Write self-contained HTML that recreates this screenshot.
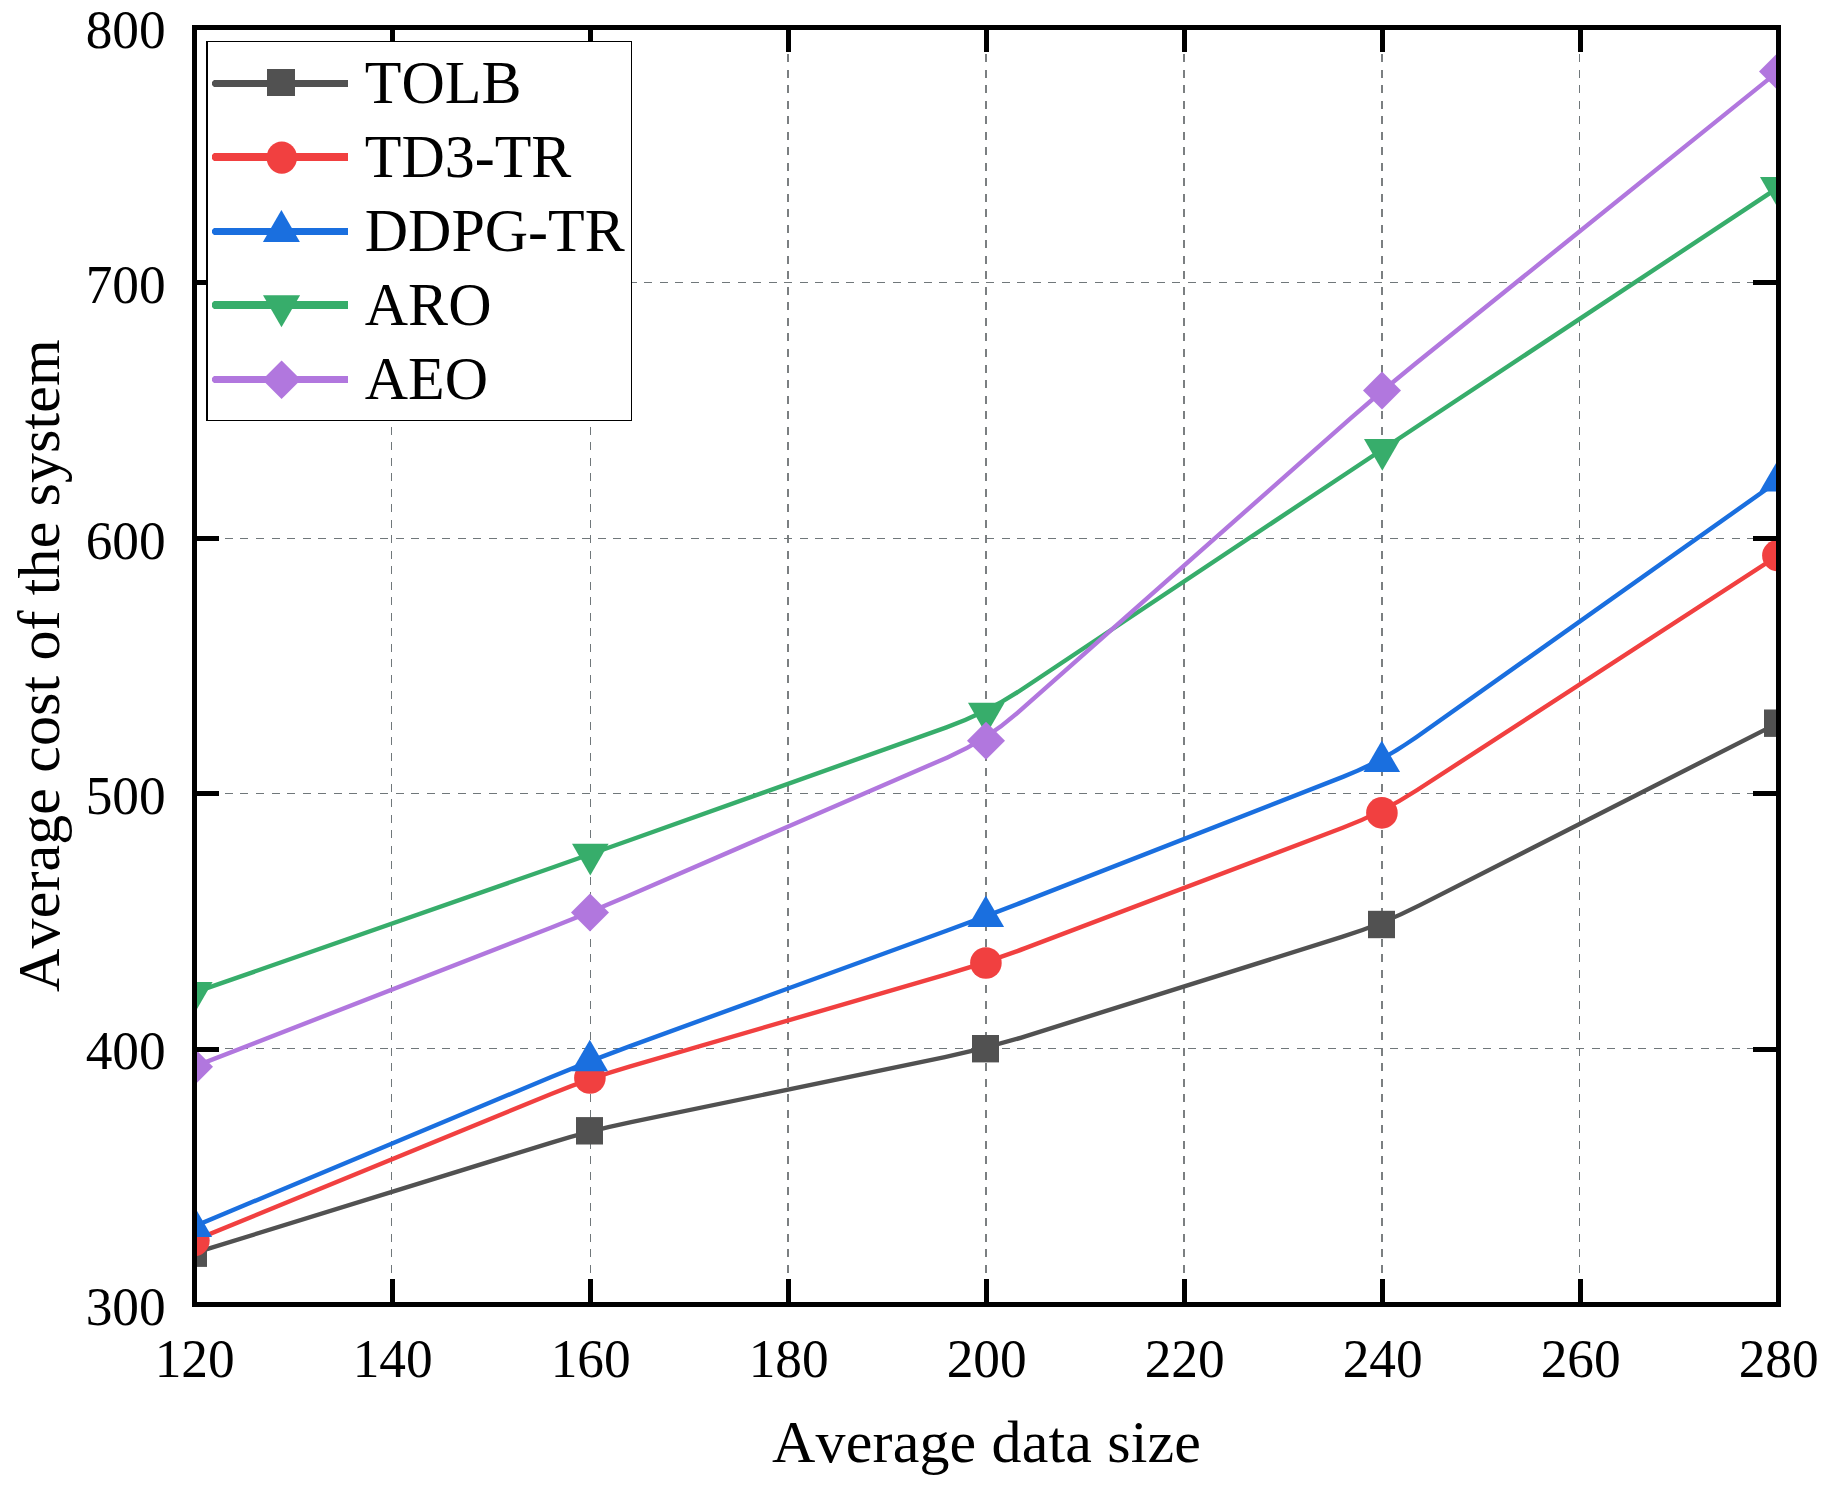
<!DOCTYPE html>
<html lang="en"><head><meta charset="utf-8"><title>Average cost of the system</title>
<style>
html,body{margin:0;padding:0;background:#fff;}
body{width:1830px;height:1492px;overflow:hidden;}
svg{display:block;}
text{font-family:"Liberation Serif","Times New Roman",serif;font-kerning:none;fill:#000;}
.tk{font-size:54px;}
.tt{font-size:60px;}
.xt{letter-spacing:0.15px;}
.yt{letter-spacing:0.115px;}
</style></head><body>
<svg width="1830" height="1492" viewBox="0 0 1830 1492">
<rect width="1830" height="1492" fill="#fff"/>
<defs><clipPath id="cp"><rect x="194.5" y="27.5" width="1584" height="1277"/></clipPath></defs>
<path d="M391.5 1296v8M391.5 1280v8M391.5 1265v8M391.5 1249v8M391.5 1234v8M391.5 1218v8M391.5 1203v8M391.5 1187v8M391.5 1172v8M391.5 1156v8M391.5 1141v8M391.5 1125v8M391.5 1110v8M391.5 1094v8M391.5 1079v8M391.5 1063v8M391.5 1048v8M391.5 1032v8M391.5 1016v8M391.5 1001v8M391.5 985v8M391.5 970v8M391.5 954v8M391.5 939v8M391.5 923v8M391.5 908v8M391.5 892v8M391.5 877v8M391.5 861v8M391.5 846v8M391.5 830v8M391.5 815v8M391.5 799v8M391.5 784v8M391.5 768v8M391.5 753v8M391.5 737v8M391.5 722v8M391.5 706v8M391.5 691v8M391.5 675v8M391.5 659v8M391.5 644v8M391.5 628v8M391.5 613v8M391.5 597v8M391.5 582v8M391.5 566v8M391.5 551v8M391.5 535v8M391.5 520v8M391.5 504v8M391.5 489v8M391.5 473v8M391.5 458v8M391.5 442v8M391.5 427v8M391.5 411v8M391.5 396v8M391.5 380v8M391.5 365v8M391.5 349v8M391.5 333v8M391.5 318v8M391.5 302v8M391.5 287v8M391.5 271v8M391.5 256v8M391.5 240v8M391.5 225v8M391.5 209v8M391.5 194v8M391.5 178v8M391.5 163v8M391.5 147v8M391.5 132v8M391.5 116v8M391.5 101v8M391.5 85v8M391.5 70v8M391.5 54v8M391.5 39v8" stroke="#70777a" stroke-width="1" fill="none"/>
<path d="M590.5 1296v8M590.5 1280v8M590.5 1265v8M590.5 1249v8M590.5 1234v8M590.5 1218v8M590.5 1203v8M590.5 1187v8M590.5 1172v8M590.5 1156v8M590.5 1141v8M590.5 1125v8M590.5 1110v8M590.5 1094v8M590.5 1079v8M590.5 1063v8M590.5 1048v8M590.5 1032v8M590.5 1016v8M590.5 1001v8M590.5 985v8M590.5 970v8M590.5 954v8M590.5 939v8M590.5 923v8M590.5 908v8M590.5 892v8M590.5 877v8M590.5 861v8M590.5 846v8M590.5 830v8M590.5 815v8M590.5 799v8M590.5 784v8M590.5 768v8M590.5 753v8M590.5 737v8M590.5 722v8M590.5 706v8M590.5 691v8M590.5 675v8M590.5 659v8M590.5 644v8M590.5 628v8M590.5 613v8M590.5 597v8M590.5 582v8M590.5 566v8M590.5 551v8M590.5 535v8M590.5 520v8M590.5 504v8M590.5 489v8M590.5 473v8M590.5 458v8M590.5 442v8M590.5 427v8M590.5 411v8M590.5 396v8M590.5 380v8M590.5 365v8M590.5 349v8M590.5 333v8M590.5 318v8M590.5 302v8M590.5 287v8M590.5 271v8M590.5 256v8M590.5 240v8M590.5 225v8M590.5 209v8M590.5 194v8M590.5 178v8M590.5 163v8M590.5 147v8M590.5 132v8M590.5 116v8M590.5 101v8M590.5 85v8M590.5 70v8M590.5 54v8M590.5 39v8" stroke="#70777a" stroke-width="1" fill="none"/>
<path d="M788 1296v8M788 1280v8M788 1265v8M788 1249v8M788 1234v8M788 1218v8M788 1203v8M788 1187v8M788 1172v8M788 1156v8M788 1141v8M788 1125v8M788 1110v8M788 1094v8M788 1079v8M788 1063v8M788 1048v8M788 1032v8M788 1016v8M788 1001v8M788 985v8M788 970v8M788 954v8M788 939v8M788 923v8M788 908v8M788 892v8M788 877v8M788 861v8M788 846v8M788 830v8M788 815v8M788 799v8M788 784v8M788 768v8M788 753v8M788 737v8M788 722v8M788 706v8M788 691v8M788 675v8M788 659v8M788 644v8M788 628v8M788 613v8M788 597v8M788 582v8M788 566v8M788 551v8M788 535v8M788 520v8M788 504v8M788 489v8M788 473v8M788 458v8M788 442v8M788 427v8M788 411v8M788 396v8M788 380v8M788 365v8M788 349v8M788 333v8M788 318v8M788 302v8M788 287v8M788 271v8M788 256v8M788 240v8M788 225v8M788 209v8M788 194v8M788 178v8M788 163v8M788 147v8M788 132v8M788 116v8M788 101v8M788 85v8M788 70v8M788 54v8M788 39v8" stroke="#7b7f81" stroke-width="2" fill="none"/>
<path d="M986 1296v8M986 1280v8M986 1265v8M986 1249v8M986 1234v8M986 1218v8M986 1203v8M986 1187v8M986 1172v8M986 1156v8M986 1141v8M986 1125v8M986 1110v8M986 1094v8M986 1079v8M986 1063v8M986 1048v8M986 1032v8M986 1016v8M986 1001v8M986 985v8M986 970v8M986 954v8M986 939v8M986 923v8M986 908v8M986 892v8M986 877v8M986 861v8M986 846v8M986 830v8M986 815v8M986 799v8M986 784v8M986 768v8M986 753v8M986 737v8M986 722v8M986 706v8M986 691v8M986 675v8M986 659v8M986 644v8M986 628v8M986 613v8M986 597v8M986 582v8M986 566v8M986 551v8M986 535v8M986 520v8M986 504v8M986 489v8M986 473v8M986 458v8M986 442v8M986 427v8M986 411v8M986 396v8M986 380v8M986 365v8M986 349v8M986 333v8M986 318v8M986 302v8M986 287v8M986 271v8M986 256v8M986 240v8M986 225v8M986 209v8M986 194v8M986 178v8M986 163v8M986 147v8M986 132v8M986 116v8M986 101v8M986 85v8M986 70v8M986 54v8M986 39v8" stroke="#7b7f81" stroke-width="2" fill="none"/>
<path d="M1184 1296v8M1184 1280v8M1184 1265v8M1184 1249v8M1184 1234v8M1184 1218v8M1184 1203v8M1184 1187v8M1184 1172v8M1184 1156v8M1184 1141v8M1184 1125v8M1184 1110v8M1184 1094v8M1184 1079v8M1184 1063v8M1184 1048v8M1184 1032v8M1184 1016v8M1184 1001v8M1184 985v8M1184 970v8M1184 954v8M1184 939v8M1184 923v8M1184 908v8M1184 892v8M1184 877v8M1184 861v8M1184 846v8M1184 830v8M1184 815v8M1184 799v8M1184 784v8M1184 768v8M1184 753v8M1184 737v8M1184 722v8M1184 706v8M1184 691v8M1184 675v8M1184 659v8M1184 644v8M1184 628v8M1184 613v8M1184 597v8M1184 582v8M1184 566v8M1184 551v8M1184 535v8M1184 520v8M1184 504v8M1184 489v8M1184 473v8M1184 458v8M1184 442v8M1184 427v8M1184 411v8M1184 396v8M1184 380v8M1184 365v8M1184 349v8M1184 333v8M1184 318v8M1184 302v8M1184 287v8M1184 271v8M1184 256v8M1184 240v8M1184 225v8M1184 209v8M1184 194v8M1184 178v8M1184 163v8M1184 147v8M1184 132v8M1184 116v8M1184 101v8M1184 85v8M1184 70v8M1184 54v8M1184 39v8" stroke="#7b7f81" stroke-width="2" fill="none"/>
<path d="M1382 1296v8M1382 1280v8M1382 1265v8M1382 1249v8M1382 1234v8M1382 1218v8M1382 1203v8M1382 1187v8M1382 1172v8M1382 1156v8M1382 1141v8M1382 1125v8M1382 1110v8M1382 1094v8M1382 1079v8M1382 1063v8M1382 1048v8M1382 1032v8M1382 1016v8M1382 1001v8M1382 985v8M1382 970v8M1382 954v8M1382 939v8M1382 923v8M1382 908v8M1382 892v8M1382 877v8M1382 861v8M1382 846v8M1382 830v8M1382 815v8M1382 799v8M1382 784v8M1382 768v8M1382 753v8M1382 737v8M1382 722v8M1382 706v8M1382 691v8M1382 675v8M1382 659v8M1382 644v8M1382 628v8M1382 613v8M1382 597v8M1382 582v8M1382 566v8M1382 551v8M1382 535v8M1382 520v8M1382 504v8M1382 489v8M1382 473v8M1382 458v8M1382 442v8M1382 427v8M1382 411v8M1382 396v8M1382 380v8M1382 365v8M1382 349v8M1382 333v8M1382 318v8M1382 302v8M1382 287v8M1382 271v8M1382 256v8M1382 240v8M1382 225v8M1382 209v8M1382 194v8M1382 178v8M1382 163v8M1382 147v8M1382 132v8M1382 116v8M1382 101v8M1382 85v8M1382 70v8M1382 54v8M1382 39v8" stroke="#7b7f81" stroke-width="2" fill="none"/>
<path d="M1579.5 1296v8M1579.5 1280v8M1579.5 1265v8M1579.5 1249v8M1579.5 1234v8M1579.5 1218v8M1579.5 1203v8M1579.5 1187v8M1579.5 1172v8M1579.5 1156v8M1579.5 1141v8M1579.5 1125v8M1579.5 1110v8M1579.5 1094v8M1579.5 1079v8M1579.5 1063v8M1579.5 1048v8M1579.5 1032v8M1579.5 1016v8M1579.5 1001v8M1579.5 985v8M1579.5 970v8M1579.5 954v8M1579.5 939v8M1579.5 923v8M1579.5 908v8M1579.5 892v8M1579.5 877v8M1579.5 861v8M1579.5 846v8M1579.5 830v8M1579.5 815v8M1579.5 799v8M1579.5 784v8M1579.5 768v8M1579.5 753v8M1579.5 737v8M1579.5 722v8M1579.5 706v8M1579.5 691v8M1579.5 675v8M1579.5 659v8M1579.5 644v8M1579.5 628v8M1579.5 613v8M1579.5 597v8M1579.5 582v8M1579.5 566v8M1579.5 551v8M1579.5 535v8M1579.5 520v8M1579.5 504v8M1579.5 489v8M1579.5 473v8M1579.5 458v8M1579.5 442v8M1579.5 427v8M1579.5 411v8M1579.5 396v8M1579.5 380v8M1579.5 365v8M1579.5 349v8M1579.5 333v8M1579.5 318v8M1579.5 302v8M1579.5 287v8M1579.5 271v8M1579.5 256v8M1579.5 240v8M1579.5 225v8M1579.5 209v8M1579.5 194v8M1579.5 178v8M1579.5 163v8M1579.5 147v8M1579.5 132v8M1579.5 116v8M1579.5 101v8M1579.5 85v8M1579.5 70v8M1579.5 54v8M1579.5 39v8" stroke="#70777a" stroke-width="1" fill="none"/>
<path d="M194 282.5h8M209 282.5h8M225 282.5h8M240 282.5h8M256 282.5h8M272 282.5h8M287 282.5h8M303 282.5h8M318 282.5h8M334 282.5h8M349 282.5h8M365 282.5h8M380 282.5h8M396 282.5h8M411 282.5h8M427 282.5h8M442 282.5h8M458 282.5h8M473 282.5h8M489 282.5h8M505 282.5h8M520 282.5h8M536 282.5h8M551 282.5h8M567 282.5h8M582 282.5h8M598 282.5h8M613 282.5h8M629 282.5h8M644 282.5h8M660 282.5h8M675 282.5h8M691 282.5h8M706 282.5h8M722 282.5h8M738 282.5h8M753 282.5h8M769 282.5h8M784 282.5h8M800 282.5h8M815 282.5h8M831 282.5h8M846 282.5h8M862 282.5h8M877 282.5h8M893 282.5h8M908 282.5h8M924 282.5h8M939 282.5h8M955 282.5h8M971 282.5h8M986 282.5h8M1002 282.5h8M1017 282.5h8M1033 282.5h8M1048 282.5h8M1064 282.5h8M1079 282.5h8M1095 282.5h8M1110 282.5h8M1126 282.5h8M1141 282.5h8M1157 282.5h8M1172 282.5h8M1188 282.5h8M1203 282.5h8M1219 282.5h8M1235 282.5h8M1250 282.5h8M1266 282.5h8M1281 282.5h8M1297 282.5h8M1312 282.5h8M1328 282.5h8M1343 282.5h8M1359 282.5h8M1374 282.5h8M1390 282.5h8M1405 282.5h8M1421 282.5h8M1436 282.5h8M1452 282.5h8M1468 282.5h8M1483 282.5h8M1499 282.5h8M1514 282.5h8M1530 282.5h8M1545 282.5h8M1561 282.5h8M1576 282.5h8M1592 282.5h8M1607 282.5h8M1623 282.5h8M1638 282.5h8M1654 282.5h8M1669 282.5h8M1685 282.5h8M1701 282.5h8M1716 282.5h8M1732 282.5h8M1747 282.5h8M1763 282.5h8" stroke="#70777a" stroke-width="1" fill="none"/>
<path d="M194 538.5h8M209 538.5h8M225 538.5h8M240 538.5h8M256 538.5h8M272 538.5h8M287 538.5h8M303 538.5h8M318 538.5h8M334 538.5h8M349 538.5h8M365 538.5h8M380 538.5h8M396 538.5h8M411 538.5h8M427 538.5h8M442 538.5h8M458 538.5h8M473 538.5h8M489 538.5h8M505 538.5h8M520 538.5h8M536 538.5h8M551 538.5h8M567 538.5h8M582 538.5h8M598 538.5h8M613 538.5h8M629 538.5h8M644 538.5h8M660 538.5h8M675 538.5h8M691 538.5h8M706 538.5h8M722 538.5h8M738 538.5h8M753 538.5h8M769 538.5h8M784 538.5h8M800 538.5h8M815 538.5h8M831 538.5h8M846 538.5h8M862 538.5h8M877 538.5h8M893 538.5h8M908 538.5h8M924 538.5h8M939 538.5h8M955 538.5h8M971 538.5h8M986 538.5h8M1002 538.5h8M1017 538.5h8M1033 538.5h8M1048 538.5h8M1064 538.5h8M1079 538.5h8M1095 538.5h8M1110 538.5h8M1126 538.5h8M1141 538.5h8M1157 538.5h8M1172 538.5h8M1188 538.5h8M1203 538.5h8M1219 538.5h8M1235 538.5h8M1250 538.5h8M1266 538.5h8M1281 538.5h8M1297 538.5h8M1312 538.5h8M1328 538.5h8M1343 538.5h8M1359 538.5h8M1374 538.5h8M1390 538.5h8M1405 538.5h8M1421 538.5h8M1436 538.5h8M1452 538.5h8M1468 538.5h8M1483 538.5h8M1499 538.5h8M1514 538.5h8M1530 538.5h8M1545 538.5h8M1561 538.5h8M1576 538.5h8M1592 538.5h8M1607 538.5h8M1623 538.5h8M1638 538.5h8M1654 538.5h8M1669 538.5h8M1685 538.5h8M1701 538.5h8M1716 538.5h8M1732 538.5h8M1747 538.5h8M1763 538.5h8" stroke="#70777a" stroke-width="1" fill="none"/>
<path d="M194 793.5h8M209 793.5h8M225 793.5h8M240 793.5h8M256 793.5h8M272 793.5h8M287 793.5h8M303 793.5h8M318 793.5h8M334 793.5h8M349 793.5h8M365 793.5h8M380 793.5h8M396 793.5h8M411 793.5h8M427 793.5h8M442 793.5h8M458 793.5h8M473 793.5h8M489 793.5h8M505 793.5h8M520 793.5h8M536 793.5h8M551 793.5h8M567 793.5h8M582 793.5h8M598 793.5h8M613 793.5h8M629 793.5h8M644 793.5h8M660 793.5h8M675 793.5h8M691 793.5h8M706 793.5h8M722 793.5h8M738 793.5h8M753 793.5h8M769 793.5h8M784 793.5h8M800 793.5h8M815 793.5h8M831 793.5h8M846 793.5h8M862 793.5h8M877 793.5h8M893 793.5h8M908 793.5h8M924 793.5h8M939 793.5h8M955 793.5h8M971 793.5h8M986 793.5h8M1002 793.5h8M1017 793.5h8M1033 793.5h8M1048 793.5h8M1064 793.5h8M1079 793.5h8M1095 793.5h8M1110 793.5h8M1126 793.5h8M1141 793.5h8M1157 793.5h8M1172 793.5h8M1188 793.5h8M1203 793.5h8M1219 793.5h8M1235 793.5h8M1250 793.5h8M1266 793.5h8M1281 793.5h8M1297 793.5h8M1312 793.5h8M1328 793.5h8M1343 793.5h8M1359 793.5h8M1374 793.5h8M1390 793.5h8M1405 793.5h8M1421 793.5h8M1436 793.5h8M1452 793.5h8M1468 793.5h8M1483 793.5h8M1499 793.5h8M1514 793.5h8M1530 793.5h8M1545 793.5h8M1561 793.5h8M1576 793.5h8M1592 793.5h8M1607 793.5h8M1623 793.5h8M1638 793.5h8M1654 793.5h8M1669 793.5h8M1685 793.5h8M1701 793.5h8M1716 793.5h8M1732 793.5h8M1747 793.5h8M1763 793.5h8" stroke="#70777a" stroke-width="1" fill="none"/>
<path d="M194 1048.5h8M209 1048.5h8M225 1048.5h8M240 1048.5h8M256 1048.5h8M272 1048.5h8M287 1048.5h8M303 1048.5h8M318 1048.5h8M334 1048.5h8M349 1048.5h8M365 1048.5h8M380 1048.5h8M396 1048.5h8M411 1048.5h8M427 1048.5h8M442 1048.5h8M458 1048.5h8M473 1048.5h8M489 1048.5h8M505 1048.5h8M520 1048.5h8M536 1048.5h8M551 1048.5h8M567 1048.5h8M582 1048.5h8M598 1048.5h8M613 1048.5h8M629 1048.5h8M644 1048.5h8M660 1048.5h8M675 1048.5h8M691 1048.5h8M706 1048.5h8M722 1048.5h8M738 1048.5h8M753 1048.5h8M769 1048.5h8M784 1048.5h8M800 1048.5h8M815 1048.5h8M831 1048.5h8M846 1048.5h8M862 1048.5h8M877 1048.5h8M893 1048.5h8M908 1048.5h8M924 1048.5h8M939 1048.5h8M955 1048.5h8M971 1048.5h8M986 1048.5h8M1002 1048.5h8M1017 1048.5h8M1033 1048.5h8M1048 1048.5h8M1064 1048.5h8M1079 1048.5h8M1095 1048.5h8M1110 1048.5h8M1126 1048.5h8M1141 1048.5h8M1157 1048.5h8M1172 1048.5h8M1188 1048.5h8M1203 1048.5h8M1219 1048.5h8M1235 1048.5h8M1250 1048.5h8M1266 1048.5h8M1281 1048.5h8M1297 1048.5h8M1312 1048.5h8M1328 1048.5h8M1343 1048.5h8M1359 1048.5h8M1374 1048.5h8M1390 1048.5h8M1405 1048.5h8M1421 1048.5h8M1436 1048.5h8M1452 1048.5h8M1468 1048.5h8M1483 1048.5h8M1499 1048.5h8M1514 1048.5h8M1530 1048.5h8M1545 1048.5h8M1561 1048.5h8M1576 1048.5h8M1592 1048.5h8M1607 1048.5h8M1623 1048.5h8M1638 1048.5h8M1654 1048.5h8M1669 1048.5h8M1685 1048.5h8M1701 1048.5h8M1716 1048.5h8M1732 1048.5h8M1747 1048.5h8M1763 1048.5h8" stroke="#70777a" stroke-width="1" fill="none"/>
<g clip-path="url(#cp)">
<path d="M194 1253.1L549.87 1143.1Q590 1130.7 631.13 1122.17L944.87 1057.13Q986 1048.6 1026.08 1036.03L1341.92 936.97Q1382 924.4 1419.44 905.37L1778 723.1" fill="none" stroke="#515151" stroke-width="4.4" stroke-linejoin="round"/>
<rect x="180" y="1239.5" width="27" height="27.4" fill="#515151"/>
<rect x="576" y="1117.1" width="27" height="27.4" fill="#515151"/>
<rect x="972" y="1035" width="27" height="27.4" fill="#515151"/>
<rect x="1368" y="910.8" width="27" height="27.4" fill="#515151"/>
<rect x="1764" y="709.5" width="27" height="27.4" fill="#515151"/>
<path d="M194 1240.5L551.14 1093.94Q590 1078 630.33 1066.29L945.67 974.71Q986 963 1025.27 948.11L1342.73 827.79Q1382 812.9 1417.22 790.02L1778 555.6" fill="none" stroke="#F14040" stroke-width="4.4" stroke-linejoin="round"/>
<circle cx="193.9" cy="1240.5" r="15.8" fill="#F14040"/>
<circle cx="589.9" cy="1078" r="15.8" fill="#F14040"/>
<circle cx="985.9" cy="963" r="15.8" fill="#F14040"/>
<circle cx="1381.9" cy="812.9" r="15.8" fill="#F14040"/>
<circle cx="1777.9" cy="555.6" r="15.8" fill="#F14040"/>
<path d="M194 1226.4L551.26 1076.91Q590 1060.7 629.46 1046.32L946.54 930.78Q986 916.4 1025.12 901.11L1342.88 776.89Q1382 761.6 1416.27 737.32L1778 481" fill="none" stroke="#1A6FDF" stroke-width="4.4" stroke-linejoin="round"/>
<polygon points="175.5,1236.9 212.1,1236.9 193.8,1205.4" fill="#1A6FDF"/>
<polygon points="571.5,1071.2 608.1,1071.2 589.8,1039.7" fill="#1A6FDF"/>
<polygon points="967.5,926.9 1004.1,926.9 985.8,895.4" fill="#1A6FDF"/>
<polygon points="1363.5,772.1 1400.1,772.1 1381.8,740.6" fill="#1A6FDF"/>
<polygon points="1759.5,491.5 1796.1,491.5 1777.8,460" fill="#1A6FDF"/>
<path d="M194 992.7L550.35 868.25Q590 854.4 629.56 840.3L946.44 727.4Q986 713.3 1020.96 690.03L1347.04 472.97Q1382 449.7 1417.03 426.53L1778 187.7" fill="none" stroke="#37AD6B" stroke-width="4.4" stroke-linejoin="round"/>
<polygon points="176,982.1 212.6,982.1 194.3,1013.8" fill="#37AD6B"/>
<polygon points="572,843.8 608.6,843.8 590.3,875.5" fill="#37AD6B"/>
<polygon points="968,702.7 1004.6,702.7 986.3,734.4" fill="#37AD6B"/>
<polygon points="1364,439.1 1400.6,439.1 1382.3,470.8" fill="#37AD6B"/>
<polygon points="1760,177.1 1796.6,177.1 1778.3,208.8" fill="#37AD6B"/>
<path d="M194 1066.7L550.86 927.74Q590 912.5 628.53 895.78L947.47 757.42Q986 740.7 1017.47 712.88L1350.53 418.42Q1382 390.6 1414.71 364.25L1778 71.6" fill="none" stroke="#B177DE" stroke-width="4.4" stroke-linejoin="round"/>
<polygon points="175,1066.7 194,1047.7 213,1066.7 194,1085.7" fill="#B177DE"/>
<polygon points="571,912.5 590,893.5 609,912.5 590,931.5" fill="#B177DE"/>
<polygon points="967,740.7 986,721.7 1005,740.7 986,759.7" fill="#B177DE"/>
<polygon points="1363,390.6 1382,371.6 1401,390.6 1382,409.6" fill="#B177DE"/>
<polygon points="1759,71.6 1778,52.6 1797,71.6 1778,90.6" fill="#B177DE"/>
</g>
<path d="M392.5 27.5V52M392.5 1304.5V1279M590.5 27.5V52M590.5 1304.5V1279M788.5 27.5V52M788.5 1304.5V1279M986.5 27.5V52M986.5 1304.5V1279M1184.5 27.5V52M1184.5 1304.5V1279M1382.5 27.5V52M1382.5 1304.5V1279M1580.5 27.5V52M1580.5 1304.5V1279M194.5 1049.5H219M1778.5 1049.5H1753M194.5 793.5H219M1778.5 793.5H1753M194.5 538.5H219M1778.5 538.5H1753M194.5 282.5H219M1778.5 282.5H1753" stroke="#000" stroke-width="5" fill="none"/>
<rect x="194.5" y="27.5" width="1584" height="1277" stroke="#000" stroke-width="5" fill="none"/>
<text class="tk" transform="translate(194.7,1377) scale(0.988,1.008)" text-anchor="middle">120</text><text class="tk" transform="translate(392.7,1377) scale(0.988,1.008)" text-anchor="middle">140</text><text class="tk" transform="translate(590.7,1377) scale(0.988,1.008)" text-anchor="middle">160</text><text class="tk" transform="translate(788.7,1377) scale(0.988,1.008)" text-anchor="middle">180</text><text class="tk" transform="translate(986.7,1377) scale(0.988,1.008)" text-anchor="middle">200</text><text class="tk" transform="translate(1184.7,1377) scale(0.988,1.008)" text-anchor="middle">220</text><text class="tk" transform="translate(1382.7,1377) scale(0.988,1.008)" text-anchor="middle">240</text><text class="tk" transform="translate(1580.7,1377) scale(0.988,1.008)" text-anchor="middle">260</text><text class="tk" transform="translate(1778.7,1377) scale(0.988,1.008)" text-anchor="middle">280</text>
<text class="tk" transform="translate(165.7,1324.8) scale(0.988,1.008)" text-anchor="end">300</text><text class="tk" transform="translate(165.7,1069.4) scale(0.988,1.008)" text-anchor="end">400</text><text class="tk" transform="translate(165.7,814) scale(0.988,1.008)" text-anchor="end">500</text><text class="tk" transform="translate(165.7,558.6) scale(0.988,1.008)" text-anchor="end">600</text><text class="tk" transform="translate(165.7,303.2) scale(0.988,1.008)" text-anchor="end">700</text><text class="tk" transform="translate(165.7,47.8) scale(0.988,1.008)" text-anchor="end">800</text>
<text class="tt xt" x="986.6" y="1461.5" text-anchor="middle">Average data size</text>
 <text class="tt yt" transform="translate(59,665.5) rotate(-90)" text-anchor="middle">Average cost of the system</text>
<rect x="206" y="41" width="426" height="380" fill="#000"/><rect x="208" y="42" width="423" height="378" fill="#fff"/>
<path d="M214 80H348v7H214l-2 -2v-3z" fill="#515151"/><rect x="267" y="69" width="28" height="27" fill="#515151"/><text class="tt" transform="translate(364.8,103.4) scale(1,1.033)">TOLB</text>
<path d="M214 153H348v8H214l-2 -2v-4z" fill="#F14040"/><ellipse cx="281.8" cy="157.6" rx="15.2" ry="16.1" fill="#F14040"/><text class="tt" transform="translate(364.8,177.4) scale(1,1.033)">TD3-TR</text>
<path d="M214 228H348v7H214l-2 -2v-3z" fill="#1A6FDF"/><polygon points="262.9,241.9 299.9,241.9 281.4,209.9" fill="#1A6FDF"/><text class="tt" transform="translate(364.8,251.4) scale(1,1.033)">DDPG-TR</text>
<path d="M214 301H348v8H214l-2 -2v-4z" fill="#37AD6B"/><polygon points="263,295.2 300.1,295.2 281.5,327.2" fill="#37AD6B"/><text class="tt" transform="translate(364.8,325.4) scale(1,1.033)">ARO</text>
<path d="M214 376H348v7H214l-2 -2v-3z" fill="#B177DE"/><polygon points="262.3,379.75 281.6,360.5 300.9,379.75 281.6,399" fill="#B177DE"/><text class="tt" transform="translate(364.8,399.4) scale(1,1.033)">AEO</text>
</svg>
</body></html>
